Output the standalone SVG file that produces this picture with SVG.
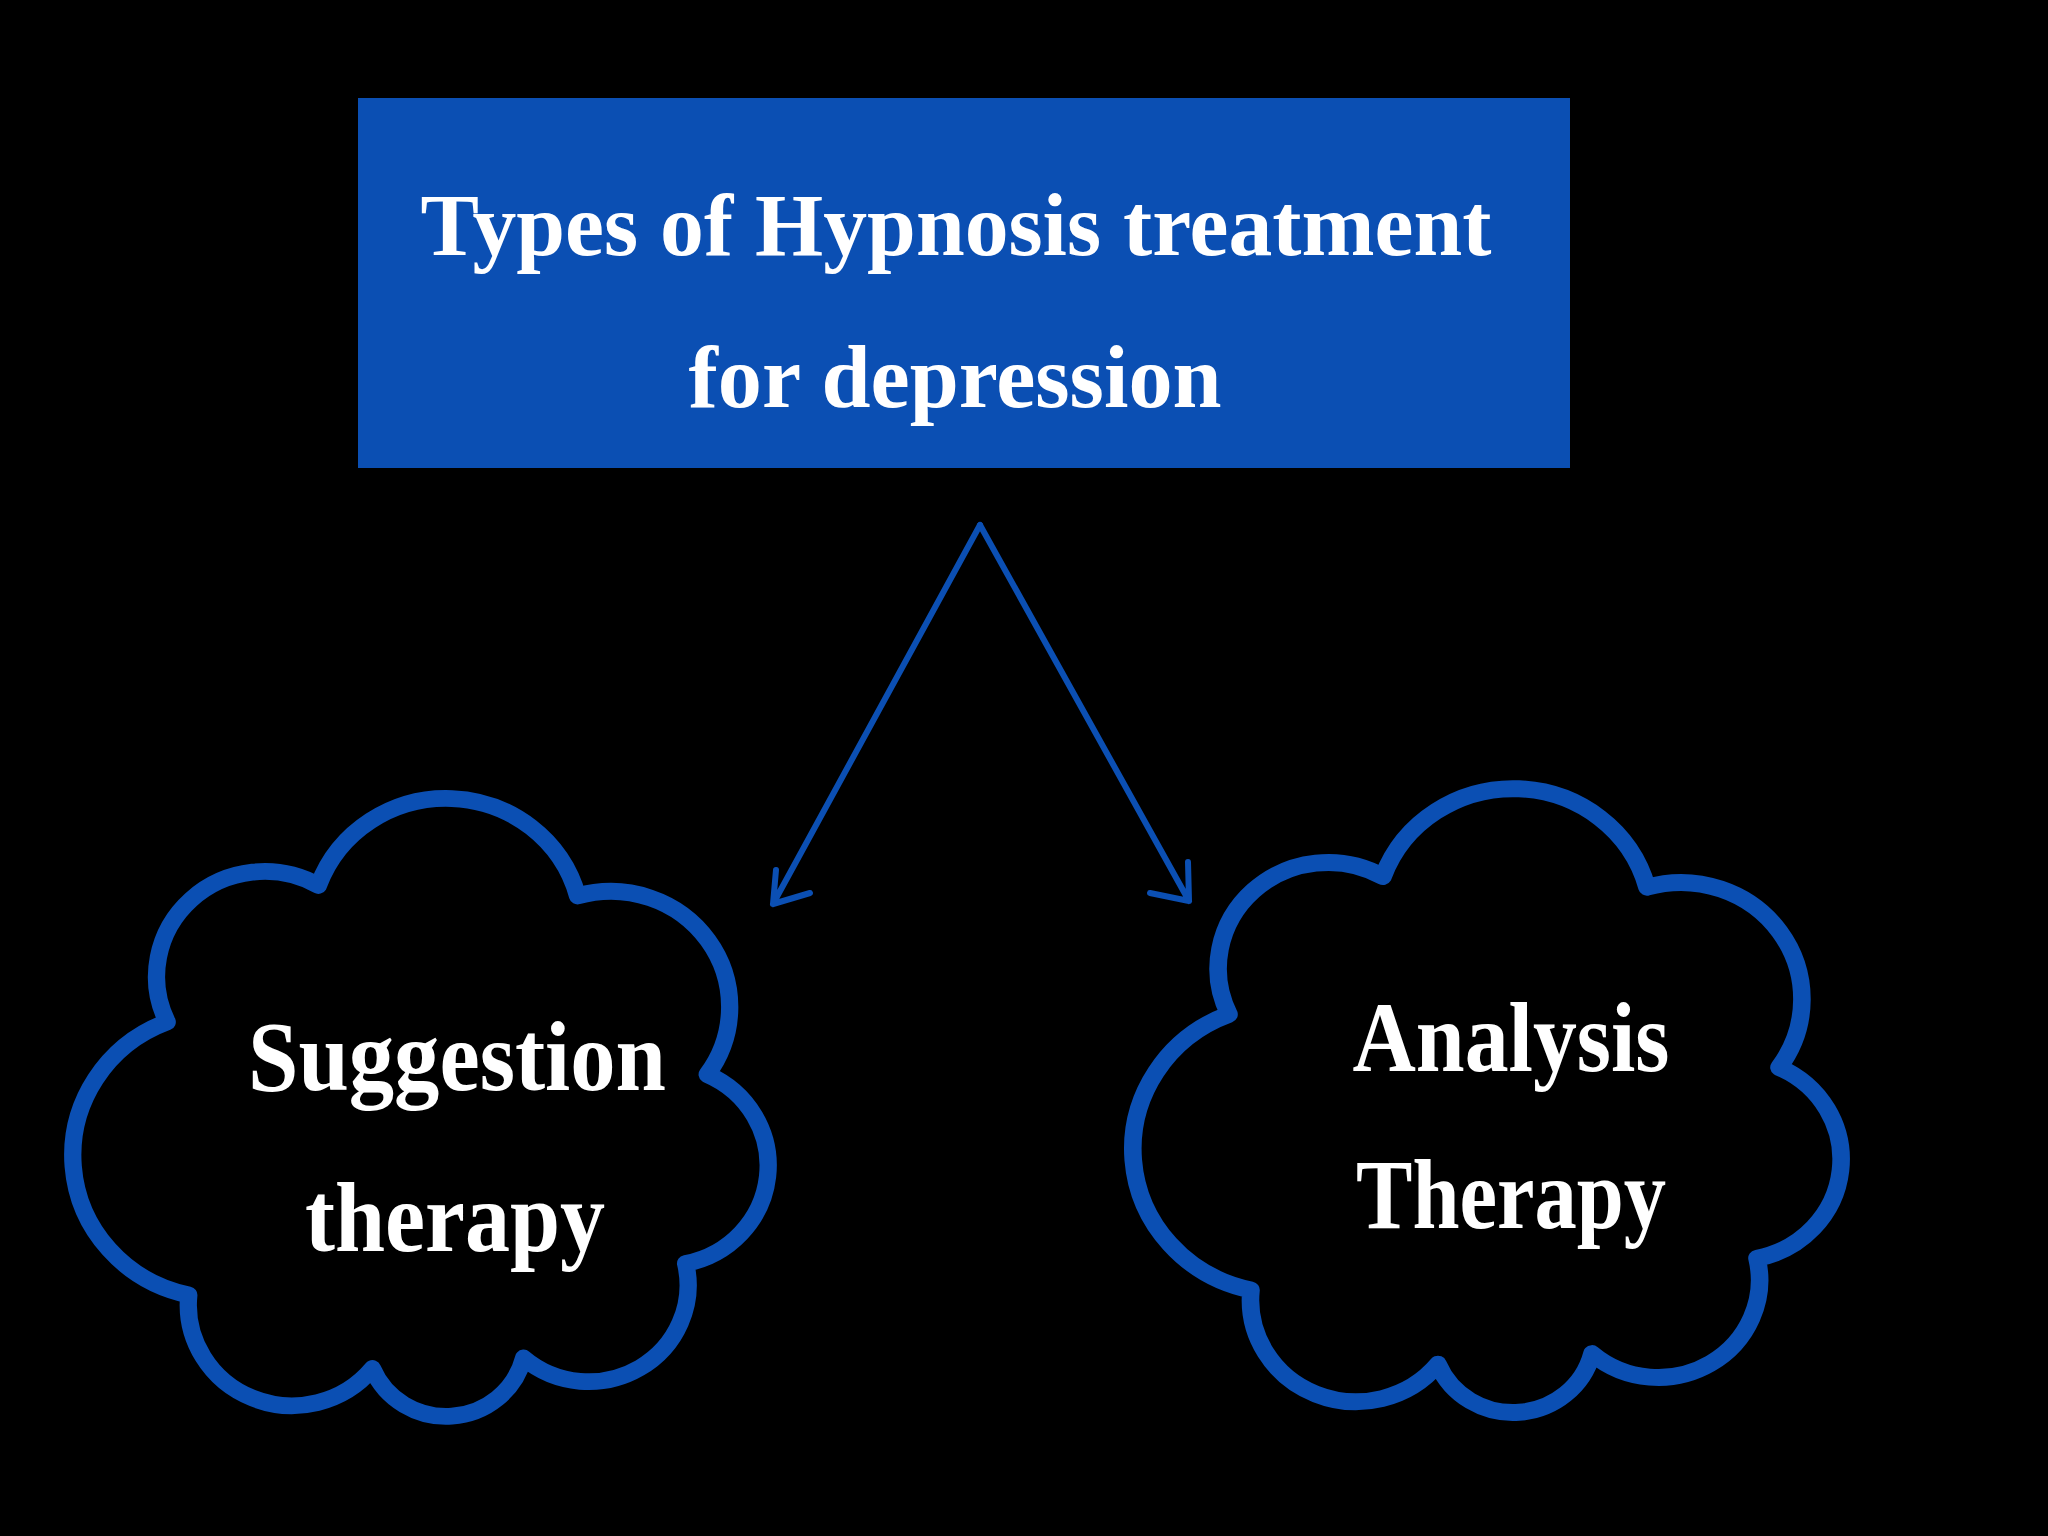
<svg xmlns="http://www.w3.org/2000/svg" width="2048" height="1536" viewBox="0 0 2048 1536">
<style>
.t{font-family:"Liberation Serif","DejaVu Serif",serif;font-weight:bold;fill:#fff;text-anchor:middle}
.cloud{fill:#000;stroke:#0b4fb3;stroke-width:16;stroke-linejoin:round}
.con{stroke:#0b4fb3;stroke-width:6;fill:none;stroke-linecap:round;stroke-linejoin:round}
</style>
<defs>
<path id="cl" d="M90,240 A100,100 0 0 1 230,110 A126,126 0 0 1 470,120 A110,110 0 0 1 590,290 A95,95 0 0 1 570,470 A92,92 0 0 1 420,560 A74,74 0 0 1 280,570 A96,96 0 0 1 110,500 A136,136 0 0 1 90,240 Z"/>
</defs>
<rect width="2048" height="1536" fill="#000"/>
<g id="title">
<rect x="358" y="98" width="1212" height="370" fill="#0b4fb3"/>
<text class="t" x="956" y="255" font-size="88" textLength="1071" lengthAdjust="spacingAndGlyphs">Types of Hypnosis treatment</text>
<text class="t" x="955" y="407" font-size="88" textLength="533" lengthAdjust="spacingAndGlyphs">for depression</text>
</g>
<g id="connectors">
<path class="con" d="M980,525 L773,904 M773,904 L776,870 M773,904 L810,893"/>
<path class="con" d="M980,525 L1189,901 M1189,901 L1188,862 M1189,901 L1150,893"/>
</g>
<g id="suggestion">
<use href="#cl" class="cloud" transform="translate(70,770) scale(1.08,1.05)"/>
<text class="t" x="457" y="1090" font-size="100" textLength="418" lengthAdjust="spacingAndGlyphs">Suggestion</text>
<text class="t" x="455" y="1251" font-size="100" textLength="300" lengthAdjust="spacingAndGlyphs">therapy</text>
</g>
<g id="analysis">
<use href="#cl" class="cloud" transform="translate(1130,760) scale(1.1,1.06)"/>
<text class="t" x="1511" y="1071" font-size="100" textLength="317" lengthAdjust="spacingAndGlyphs">Analysis</text>
<text class="t" x="1511" y="1228" font-size="100" textLength="310" lengthAdjust="spacingAndGlyphs">Therapy</text>
</g>
</svg>
